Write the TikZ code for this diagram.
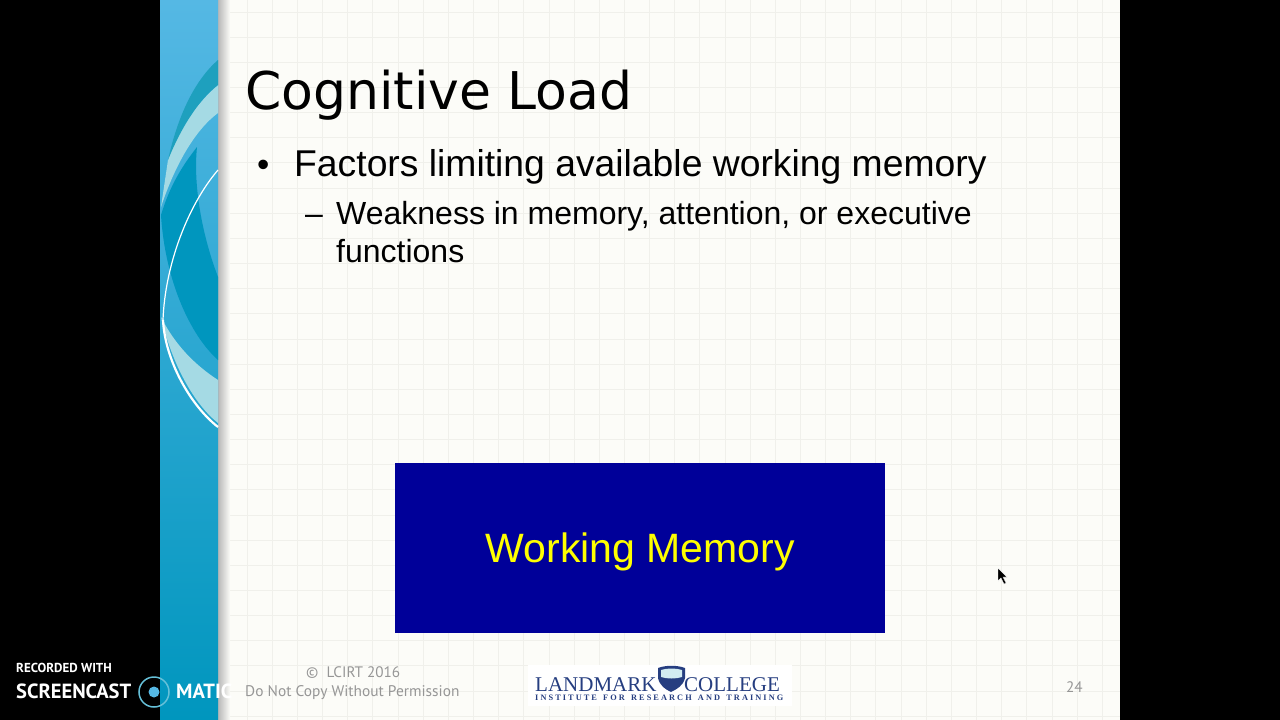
\documentclass[tikz,border=0pt]{standalone}
\usepackage{fontspec}
\setmainfont{Liberation Sans}
\newfontfamily\titlefont{DejaVu Sans}
\newfontfamily\smallfont{PT Sans}
\newfontfamily\logofont{Liberation Serif}
\usetikzlibrary{positioning}
\definecolor{slidepaper}{RGB}{252,252,248}
\definecolor{slidegrid}{RGB}{240,240,235}
\definecolor{bandlight}{RGB}{85,184,228}
\definecolor{bandlow}{RGB}{0,150,190}
\definecolor{banddeep}{RGB}{0,150,190}
\definecolor{bandteal}{RGB}{30,160,190}
\definecolor{bandpale}{RGB}{165,218,228}
\definecolor{boxblue}{RGB}{0,0,153}
\definecolor{boxyellow}{RGB}{255,255,0}
\definecolor{footgrey}{RGB}{150,150,150}
\definecolor{logoblue}{RGB}{38,62,128}
\tikzset{
	bodytext/.style={anchor=base west,inner sep=0pt,text=black},
	foottext/.style={anchor=base west,inner sep=0pt,text=footgrey,font=\smallfont\fontsize{15.2}{15.2}\selectfont},
	marktext/.style={anchor=base west,inner sep=0pt,text=white,font=\smallfont\bfseries},
	logotext/.style={anchor=base west,inner sep=0pt,text=logoblue,font=\logofont\fontsize{21}{21}\selectfont},
}
\begin{document}
\begin{tikzpicture}[x=1pt,y=-1pt]
		\useasboundingbox (0,0) rectangle (1280,720);
		\fill[black] (0,0) rectangle (1280,720);
		\fill[slidepaper] (160,0) rectangle (1120,720);
		\foreach \x in {222,247.15,...,1120} % grid, vertical
		\draw[slidegrid,line width=0.9pt] (\x,0) -- (\x,720);
		\foreach \y in {12,37.15,...,720} % grid, horizontal
		\draw[slidegrid,line width=0.9pt] (218,\y) -- (1120,\y);
		% side band
		\fill[left color=black!28,right color=slidepaper] (218,0) rectangle (230,720);
		\fill[top color=bandlight,bottom color=bandlow] (160,0) rectangle (218,720);
		\fill[banddeep] (161,215) .. controls (170,185) and (183,165) .. (197,147)
			.. controls (193,185) and (202,235) .. (218,277)
			-- (218,360) .. controls (190,335) and (165,280) .. (161,215) -- cycle;
		\fill[bandpale] (161,207) .. controls (175,165) and (195,130) .. (218,113)
			-- (218,85) .. controls (195,105) and (178,130) .. (168,160) -- cycle;
		\fill[bandteal] (168,160) .. controls (178,115) and (195,80) .. (218,60)
			-- (218,85) .. controls (198,100) and (180,130) .. (168,160) -- cycle;
		\fill[bandpale] (161,317) .. controls (175,345) and (195,365) .. (218,380)
			-- (218,423) .. controls (195,405) and (172,365) .. (161,317) -- cycle;
		\draw[white,line width=1.2pt] (218,170) .. controls (188,205) and (165,265) .. (163,320);
		\draw[white,line width=2.2pt] (163,320) .. controls (165,360) and (190,405) .. (218,427);
		% slide text
		\node[bodytext,font=\titlefont\fontsize{52}{52}\selectfont] (title) at (245,109) {Cognitive Load};
		\node[bodytext,font=\fontsize{35}{35}\selectfont] (bullet) at (257,176) {•};
		\node[bodytext,font=\fontsize{37.3}{37.3}\selectfont] (factors) at (294,176) {Factors limiting available working memory};
		\node[bodytext,font=\fontsize{32}{32}\selectfont] (dash) at (305,224) {–};
		\node[bodytext,font=\fontsize{32}{32}\selectfont] (weakness) at (336,224) {Weakness in memory, attention, or executive};
		\node[bodytext,font=\fontsize{32}{32}\selectfont] (functions) at (336,262) {functions};
		% box
		\node[fill=boxblue,minimum width=490pt,minimum height=170pt,inner sep=0pt,anchor=north west,
			text=boxyellow,text height=28pt,text depth=0pt,font=\fontsize{41}{41}\selectfont] (wm) at (395,463) {Working Memory};
		% footer
		\node[foottext] (lcirt) at (306,677) {©\ \ LCIRT 2016};
		\node[foottext,font=\smallfont\fontsize{15.4}{15.4}\selectfont] (permission) at (245,696) {Do Not Copy Without Permission};
		\node[foottext] (page) at (1066,692) {24};
		% logo
		\fill[white] (528,665) rectangle (792,706);
		\node[logotext] (landmark) at (535,691) {LANDMARK};
		\node[logotext] (college) at (684,691) {COLLEGE};
		\node[logotext,font=\logofont\bfseries\fontsize{8.3}{8.3}\selectfont] (institute) at (535,700) {I N S T I T U T E\ \ \ F O R\ \ \ R E S E A R C H\ \ \ A N D\ \ \ T R A I N I N G};
		\fill[logoblue] (658,668) .. controls (666,665) and (677,665) .. (685,668) -- (685,678)
			.. controls (683,686) and (677,689) .. (671,692)
			.. controls (665,689) and (660,686) .. (658,678) -- cycle;
		\fill[bandpale!50!white] (661,670) .. controls (667,668) and (676,668) .. (682,670) -- (682,677)
			.. controls (676,679) and (667,679) .. (661,677) -- cycle;
		% recorder mark
		\node[marktext,font=\smallfont\bfseries\fontsize{13}{13}\selectfont] (recorded) at (16,672) {RECORDED WITH};
		\node[marktext,font=\smallfont\bfseries\fontsize{20.5}{20.5}\selectfont] (screencast) at (16,698) {SCREENCAST};
		\node[draw=banddeep!60!white,circle,line width=1.5pt,minimum size=30pt,inner sep=0pt] (ring) at (154,692) {};
		\fill[bandlight] (ring.center) circle (5.5pt);
		\node[marktext,font=\smallfont\bfseries\fontsize{20.5}{20.5}\selectfont] (matic) at (176,698) {MATIC};
		% cursor
		\fill[black,draw=white,line width=0.4pt] (998,568) -- (998,581) -- (1001,578) -- (1004,584) -- (1006,583) -- (1003,577) -- (1007,577) -- cycle;
\end{tikzpicture}
\end{document}
